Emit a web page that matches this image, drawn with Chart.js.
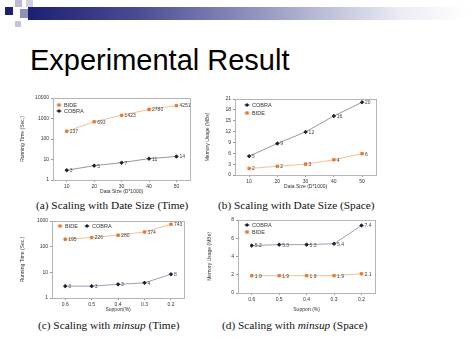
<!DOCTYPE html>
<html>
<head>
<meta charset="utf-8">
<script src="https://cdn.jsdelivr.net/npm/chart.js@4.4.0/dist/chart.umd.min.js"></script>
<style>
  html, body { margin: 0; padding: 0; background: #fff; }
  body { width: 474px; height: 355px; position: relative; overflow: hidden; font-family: "Liberation Sans", Arial, sans-serif; }
  .sq { position: absolute; }
  #bar { position: absolute; left: 28px; top: 7px; width: 440px; height: 13px;
         background: linear-gradient(to right, #1d1f73 0%, #4a4c92 25%, #a9aacb 60%, #ecedf4 85%, #ffffff 100%); }
  h1 { position: absolute; left: 30px; top: 46px; margin: 0; font-weight: normal; font-size: 29px; line-height: 29px; color: #000; }
  canvas { position: absolute; }
  .cap { position: absolute; font-family: "Liberation Serif", "Times New Roman", serif; font-size: 11.3px; line-height: 12px; white-space: nowrap; color: #111; }
</style>
</head>
<body>
<div class="sq" style="left:5px;top:7px;width:8px;height:8px;background:#1d1f73"></div>
<div class="sq" style="left:15px;top:0px;width:7px;height:7px;background:#b9bad6"></div>
<div class="sq" style="left:26px;top:0px;width:7px;height:7px;background:#cfd0e4"></div>
<div class="sq" style="left:15px;top:21px;width:6px;height:6px;background:#c4c5dd"></div>
<div class="sq" style="left:20px;top:9px;width:8px;height:9px;background:#8e90bd"></div>
<div id="bar"></div>
<h1>Experimental Result</h1>

<canvas id="chartA" width="175" height="103" style="left:20px;top:92px"></canvas>
<canvas id="chartB" width="176" height="97" style="left:205px;top:93px"></canvas>
<canvas id="chartC" width="169" height="98" style="left:20px;top:215px"></canvas>
<canvas id="chartD" width="173" height="99" style="left:207px;top:214px"></canvas>

<div class="cap" style="left:36px;top:199px">(a) Scaling with Date Size (Time)</div>
<div class="cap" style="left:218px;top:199px">(b) Scaling with Date Size (Space)</div>
<div class="cap" style="left:38px;top:319px">(c) Scaling with <i>minsup</i> (Time)</div>
<div class="cap" style="left:222px;top:319px">(d) Scaling with <i>minsup</i> (Space)</div>

<script>
// data
const sizeLabels = ['10', '20', '30', '40', '50'];
const supportLabels = ['0.6', '0.5', '0.4', '0.3', '0.2'];

const timeSizeBide = [237, 693, 1423, 2780, 4251];
const timeSizeCobra = [3, 5, 7, 11, 14];
const spaceSizeCobra = [5.2, 8.7, 11.9, 16.3, 20.1];
const spaceSizeBide = [1.8, 2.4, 3.0, 4.2, 5.9];
const timeSupBide = [195, 226, 280, 374, 743];
const timeSupCobra = [2.9, 2.9, 3.4, 3.9, 8.4];
const spaceSupCobra = [5.2, 5.3, 5.3, 5.4, 7.4];
const spaceSupBide = [1.9, 1.9, 1.9, 1.9, 2.1];

const logTicksA = [1, 10, 100, 1000, 10000];
const logTicksC = [1, 10, 100, 1000];

const BIDE_MARK = '#e8772e';
const BIDE_LINE = '#f2b07a';
const COBRA_MARK = '#1b1d2e';
const FONT = '"Liberation Sans", Arial, sans-serif';

function bide(data) {
  return { label: 'BIDE', data, borderColor: BIDE_LINE, backgroundColor: BIDE_MARK,
           pointBorderColor: BIDE_MARK, pointStyle: 'rect', pointRadius: 1.8, borderWidth: 0.8 };
}
function cobra(data, line) {
  return { label: 'COBRA', data, borderColor: line, backgroundColor: COBRA_MARK,
           pointBorderColor: COBRA_MARK, pointStyle: 'rectRot', pointRadius: 1.8, borderWidth: 0.8 };
}

// grey frame around the plot area
const boxPlugin = {
  id: 'box',
  afterDraw(chart) {
    const a = chart.chartArea, ctx = chart.ctx;
    ctx.save();
    ctx.strokeStyle = '#b5b5b5';
    ctx.lineWidth = 1;
    ctx.strokeRect(Math.round(a.left) + 0.5, Math.round(a.top) + 0.5,
                   Math.round(a.right - a.left), Math.round(a.bottom - a.top));
    ctx.restore();
  }
};

// value printed next to every point
function valueLabels(format) {
  return {
    id: 'valueLabels',
    afterDatasetsDraw(chart) {
      const ctx = chart.ctx;
      ctx.save();
      ctx.font = '5px ' + FONT;
      ctx.fillStyle = '#444';
      ctx.textBaseline = 'middle';
      chart.data.datasets.forEach((ds, i) => {
        chart.getDatasetMeta(i).data.forEach((pt, j) => {
          ctx.fillText(format(ds.data[j]), pt.x + 3, pt.y + 0.5);
        });
      });
      ctx.restore();
    }
  };
}

function drawMark(ctx, style, x, y, r) {
  ctx.beginPath();
  if (style === 'rect') {
    ctx.rect(x - r, y - r, 2 * r, 2 * r);
  } else {
    ctx.moveTo(x, y - r - 0.5); ctx.lineTo(x + r + 0.5, y);
    ctx.lineTo(x, y + r + 0.5); ctx.lineTo(x - r - 0.5, y);
    ctx.closePath();
  }
  ctx.fill();
}

// legend sitting inside the plot box
function insideLegend(dx, dy, step, horizontal) {
  return {
    id: 'insideLegend',
    afterDraw(chart) {
      const a = chart.chartArea, ctx = chart.ctx;
      ctx.save();
      ctx.font = '5.5px ' + FONT;
      ctx.textBaseline = 'middle';
      let x = a.left + dx, y = a.top + dy;
      chart.data.datasets.forEach(ds => {
        ctx.strokeStyle = ds.borderColor;
        ctx.lineWidth = 0.8;
        ctx.beginPath(); ctx.moveTo(x - 3, y); ctx.lineTo(x + 3, y); ctx.stroke();
        ctx.fillStyle = ds.backgroundColor;
        drawMark(ctx, ds.pointStyle, x, y, 1.6);
        ctx.fillStyle = '#333';
        ctx.fillText(ds.label, x + 5, y + 0.5);
        if (horizontal) x += step; else y += step;
      });
      ctx.restore();
    }
  };
}

function axisX(labels, title, height) {
  return {
    type: 'category', labels, offset: true,
    grid: { drawOnChartArea: false, drawTicks: true, tickLength: 2, color: '#999' },
    border: { display: false },
    ticks: { font: { size: 5, family: FONT }, color: '#333', padding: 2, maxRotation: 0 },
    title: { display: true, text: title, font: { size: 5, family: FONT }, color: '#333', padding: 0 },
    afterFit(s) { s.height = height; }
  };
}

function axisYLog(tickVals, title, width) {
  return {
    type: 'logarithmic', min: tickVals[0], max: tickVals[tickVals.length - 1],
    afterBuildTicks(s) { s.ticks = tickVals.map(v => ({ value: v })); },
    grid: { drawOnChartArea: false, drawTicks: true, tickLength: 2, color: '#999' },
    border: { display: false },
    ticks: { font: { size: 5, family: FONT }, color: '#333', padding: 2, callback: v => String(v) },
    title: { display: true, text: title, font: { size: 5, family: FONT }, color: '#333', padding: 0 },
    afterFit(s) { s.width = width; }
  };
}

function axisYLin(max, step, title, width) {
  return {
    type: 'linear', min: 0, max,
    grid: { drawOnChartArea: false, drawTicks: true, tickLength: 2, color: '#999' },
    border: { display: false },
    ticks: { stepSize: step, font: { size: 5, family: FONT }, color: '#333', padding: 2 },
    title: { display: true, text: title, font: { size: 5, family: FONT }, color: '#333', padding: 0 },
    afterFit(s) { s.width = width; }
  };
}

function makeChart(id, datasets, x, y, legend, format) {
  return new Chart(document.getElementById(id), {
    type: 'line',
    data: { datasets },
    options: {
      responsive: false,
      animation: false,
      devicePixelRatio: 1,
      layout: { padding: { top: 6, right: 4, left: 0, bottom: 0 } },
      plugins: { legend: { display: false }, tooltip: { enabled: false } },
      elements: { line: { tension: 0 } },
      scales: { x, y }
    },
    plugins: [boxPlugin, valueLabels(format), legend]
  });
}

const whole = v => String(Math.round(v));
const oneDec = v => v.toFixed(1);

makeChart('chartA',
  [bide(timeSizeBide), cobra(timeSizeCobra, '#7d7d7d')],
  axisX(sizeLabels, 'Data Size (D*1000)', 15),
  axisYLog(logTicksA, 'Running Time (Sec.)', 33),
  insideLegend(6, 7, 6, false), whole);

makeChart('chartB',
  [cobra(spaceSizeCobra, '#7d7d7d'), bide(spaceSizeBide)],
  axisX(sizeLabels, 'Data Size (D*1000)', 15),
  axisYLin(21, 3, 'Memory Usage (MBs)', 30),
  insideLegend(12, 6, 8, false), whole);

makeChart('chartC',
  [bide(timeSupBide), cobra(timeSupCobra, '#7a8ba3')],
  axisX(supportLabels, 'Support(%)', 15),
  axisYLog(logTicksC, 'Running Time (Sec.)', 32),
  insideLegend(8, 5, 27, true), whole);

makeChart('chartD',
  [cobra(spaceSupCobra, '#7a8ba3'), bide(spaceSupBide)],
  axisX(supportLabels, 'Support (%)', 20),
  axisYLin(8, 2, 'Memory Usage (MBs)', 31),
  insideLegend(9, 5, 7, false), oneDec);
</script>
</body>
</html>
